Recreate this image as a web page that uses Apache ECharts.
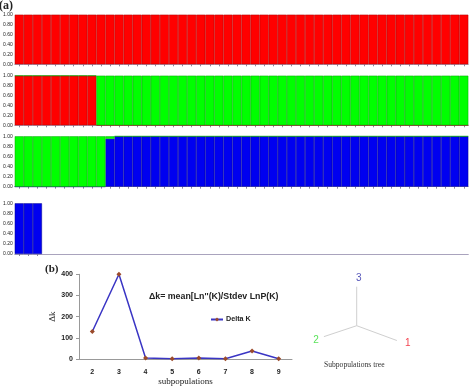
<!DOCTYPE html>
<html><head><meta charset="utf-8">
<script src="https://cdn.jsdelivr.net/npm/echarts@6/dist/echarts.min.js"></script>
<style>html,body{margin:0;padding:0;background:#fff}#c{width:474px;height:387px}</style>
</head><body><div id="c"></div>
<script>
// ---- data ----
const individuals = Array.from({length: 50}, (_, i) => String(i + 1));
const yTicks = ['0.00','0.20','0.40','0.60','0.80','1.00'];
// K=1
const k1Red = [1,1,1,1,1,1,1,1,1,1,1,1,1,1,1,1,1,1,1,1,1,1,1,1,1,1,1,1,1,1,1,1,1,1,1,1,1,1,1,1,1,1,1,1,1,1,1,1,1,1];
// K=2
const k2Red   = [1,1,1,1,1,1,1,1,1,0,0,0,0,0,0,0,0,0,0,0,0,0,0,0,0,0,0,0,0,0,0,0,0,0,0,0,0,0,0,0,0,0,0,0,0,0,0,0,0,0];
const k2Green = [0,0,0,0,0,0,0,0,0,1,1,1,1,1,1,1,1,1,1,1,1,1,1,1,1,1,1,1,1,1,1,1,1,1,1,1,1,1,1,1,1,1,1,1,1,1,1,1,1,1];
// K=3
const k3Blue  = [0,0,0,0,0,0,0,0,0,0,0.95,1,1,1,1,1,1,1,1,1,1,1,1,1,1,1,1,1,1,1,1,1,1,1,1,1,1,1,1,1,1,1,1,1,1,1,1,1,1,1];
const k3Green = [1,1,1,1,1,1,1,1,1,1,0.05,0,0,0,0,0,0,0,0,0,0,0,0,0,0,0,0,0,0,0,0,0,0,0,0,0,0,0,0,0,0,0,0,0,0,0,0,0,0,0];
// K=4 panel
const k4Blue  = [1,1,1];
// Delta K
const kValues = ['2','3','4','5','6','7','8','9'];
const deltaK  = [130, 400, 5, 1, 5, 1, 38, 1];
// tree (abstract units)
const treeCenter = [0, 0];
const treeNodes = [
  {name: '3', pos: [0, 1.0],     color: '#2b2ba8'},
  {name: '2', pos: [-0.84, -0.28], color: '#2fdc2f'},
  {name: '1', pos: [1.03, -0.38],  color: '#f01020'}
];

// ---- chart ----
const RED = '#ff0000', GREEN = '#00ff00', BLUE = '#0000f0';
const grids = [
  {left: 13.3, top: 14.7, width: 455, height: 49.6},
  {left: 13.3, top: 75.7, width: 455, height: 49.6},
  {left: 13.3, top: 136.3, width: 455, height: 50.4},
  {left: 13.3, top: 203.3, width: 455, height: 50.7},
  {left: 79, top: 274.3, width: 213, height: 89.4},
  {left: 317.7, top: 278.9, width: 97.5, height: 70.2}
];
const xAxes = [], yAxes = [];
for (let i = 0; i < 4; i++) {
  xAxes.push({
    type: 'category', gridIndex: i, data: individuals,
    axisLine: {show: true, lineStyle: {color: '#a9a3bd', width: 1}},
    axisTick: {show: true, alignWithLabel: true, length: 2, lineStyle: {color: '#8c86a0'},
      interval: i === 3 ? (idx) => idx < 3 : 0},
    axisLabel: {show: false}
  });
  yAxes.push({
    type: 'value', gridIndex: i, min: 0, max: 1, interval: 0.2,
    splitLine: {show: false},
    axisLine: {show: false}, axisTick: {show: false},
    axisLabel: {fontSize: 5, color: '#222', margin: 2, formatter: v => v.toFixed(2)}
  });
}
xAxes.push({
  type: 'category', gridIndex: 4, data: kValues,
  axisLine: {lineStyle: {color: '#999'}},
  axisTick: {show: false},
  axisLabel: {fontSize: 7, fontWeight: 'bold', color: '#222', margin: 10, fontFamily: 'Liberation Sans'},
  name: 'subpopulations', nameLocation: 'middle', nameGap: 18,
  nameTextStyle: {fontFamily: 'Liberation Serif', fontSize: 9, color: '#222'}
});
yAxes.push({
  type: 'value', gridIndex: 4, min: 0, max: 400, interval: 100,
  splitLine: {show: false},
  axisLine: {show: true, lineStyle: {color: '#999'}},
  axisTick: {show: true, inside: false, length: 3, lineStyle: {color: '#999'}},
  axisLabel: {fontSize: 7, fontWeight: 'bold', color: '#222', margin: 6, fontFamily: 'Liberation Sans'},
  name: 'Δk', nameLocation: 'middle', nameGap: 21, nameRotate: 90,
  nameTextStyle: {fontFamily: 'Liberation Serif', fontSize: 9, color: '#222'}
});
xAxes.push({type: 'value', gridIndex: 5, min: -1, max: 1.5, show: false});
yAxes.push({type: 'value', gridIndex: 5, min: -0.6, max: 1.2, show: false});

function barSeries(idx, data, color, border, stack) {
  return {
    type: 'bar', xAxisIndex: idx, yAxisIndex: idx, stack: stack, data: data,
    barCategoryGap: 0, barGap: 0, silent: true,
    itemStyle: {color: color, borderColor: border, borderWidth: 0.5}
  };
}
const series = [
  barSeries(0, k1Red, RED, '#b00000', 's0'),
  barSeries(1, k2Red, RED, '#b00000', 's1'),
  barSeries(1, k2Green, GREEN, '#00a800', 's1'),
  barSeries(2, k3Blue, BLUE, '#000090', 's2'),
  barSeries(2, k3Green, GREEN, '#00a800', 's2'),
  barSeries(3, k4Blue, BLUE, '#000090', 's3'),
  {
    name: 'Delta K', type: 'line', xAxisIndex: 4, yAxisIndex: 4, data: deltaK,
    symbol: 'diamond', symbolSize: 5, showAllSymbol: true,
    lineStyle: {color: '#3a35c4', width: 1.5},
    itemStyle: {color: '#9b4a2a'}
  }
];
treeNodes.forEach(n => {
  series.push({
    type: 'line', xAxisIndex: 5, yAxisIndex: 5, data: [treeCenter, n.pos],
    symbol: 'none', lineStyle: {color: '#cfcfcf', width: 1}, silent: true
  });
});
const labelOffsets = {'3': [2, -8], '2': [-8, 4], '1': [11, 3]};
series.push({
  type: 'scatter', xAxisIndex: 5, yAxisIndex: 5, symbolSize: 0.1, silent: true,
  data: treeNodes.map(n => ({value: n.pos, name: n.name,
    label: {show: true, formatter: n.name, color: n.color, position: 'inside',
      offset: labelOffsets[n.name], fontSize: 10, fontFamily: 'Liberation Sans'}}))
});

const chart = echarts.init(document.getElementById('c'), null, {renderer: 'canvas'});
chart.setOption({
  animation: false,
  backgroundColor: '#fff',
  title: [
    {text: '(a)', left: -1, top: 0, padding: 0, textStyle: {fontFamily: 'Liberation Serif', fontSize: 12, fontWeight: 'bold', color: '#222'}},
    {text: '(b)', left: 45, top: 264, padding: 0, textStyle: {fontFamily: 'Liberation Serif', fontSize: 11, fontWeight: 'bold', color: '#222'}},
    {text: "Δk= mean[Ln''(K)/Stdev LnP(K)", left: 149, top: 292, padding: 0, textStyle: {fontFamily: 'Liberation Sans', fontSize: 8.8, fontWeight: 'bold', color: '#222'}},
    {text: 'Subpopulations tree', left: 324, top: 361, padding: 0, textStyle: {fontFamily: 'Liberation Serif', fontSize: 7.6, fontWeight: 'normal', color: '#333'}}
  ],
  legend: {
    data: ['Delta K'], left: 210, top: 316, padding: 0, itemWidth: 12, itemHeight: 5, itemGap: 2,
    textStyle: {fontSize: 7.2, fontWeight: 'bold', color: '#222', padding: [0, 0, 0, -2]}
  },
  grid: grids,
  xAxis: xAxes,
  yAxis: yAxes,
  series: series
});
</script>
</body></html>
